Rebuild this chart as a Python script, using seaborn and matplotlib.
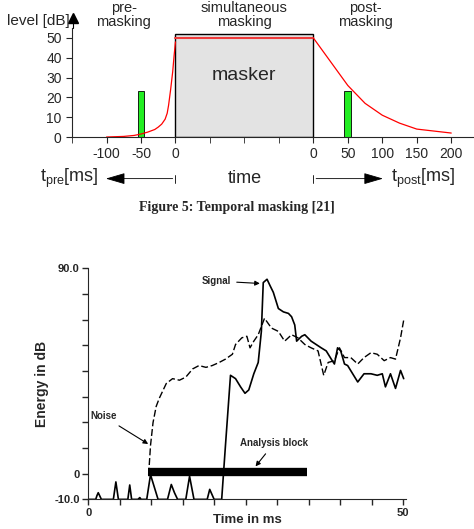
import numpy as np
import matplotlib
matplotlib.use("Agg")
import matplotlib.pyplot as plt
import seaborn as sns

sns.set_style("ticks")
plt.rcParams['font.family'] = ['Liberation Sans', 'DejaVu Sans']

# ---- top chart: temporal masking (u = pre ms, masker 0..200, post 200+ms)
pre_t = [-100, -75, -60, -50, -40, -30, -25, -20, -15, -12, -10, -7, -4, -2, 0]
pre_db = [0, 0.3, 0.8, 1.5, 2.5, 3.8, 5, 6.5, 9, 12, 16, 24, 33, 41, 48]
post_t = [0, 25, 50, 75, 100, 125, 150, 175, 200]
post_db = [50, 38, 26, 17, 11, 7, 4, 3, 2]
masker_level = 50
masker_top = 52
signal_level = 23
signal_pos = [-50, 50]
tick_u = [-100, -50, 0, 200, 250, 300, 350, 400]
tick_lbl = ['-100', '-50', '0', '0', '50', '100', '150', '200']

# ---- bottom chart: energy vs time
noise_t = [9.6, 9.9, 10.3, 10.8, 11.3, 12.4, 13.4, 14.5, 15.5, 16.6, 17.6, 18.7, 19.7, 20.8,
           21.8, 22.9, 23.4, 24.4, 25.2, 25.7, 26.3, 27.0, 28.0, 29.1, 30.2, 31.2, 32.3, 33.3,
           34.4, 35.4, 36.5, 37.4, 38.1, 39.1, 39.9, 40.7, 41.7, 42.8, 43.8, 44.9, 45.9, 47.0,
           48.0, 48.8, 49.6, 50.1]
noise_db = [-0.4, 11.0, 19.9, 26.2, 29.4, 35.1, 37.0, 36.4, 37.6, 40.8, 42.1, 41.4, 42.1, 43.3,
            44.6, 46.5, 50.3, 52.9, 53.5, 49.0, 51.6, 54.1, 60.5, 56.7, 55.4, 51.6, 54.1, 52.9,
            50.3, 49.0, 47.8, 38.3, 43.3, 44.0, 49.0, 45.2, 45.2, 42.7, 45.2, 47.1, 46.5, 44.0,
            45.2, 44.6, 52.9, 59.8]
signal_t = [0.0, 1.2, 1.4, 1.6, 2.1, 4.0, 4.4, 4.8, 6.3, 6.6, 6.9, 7.9, 8.2, 8.4, 9.3, 9.9, 11.1,
            12.6, 13.2, 13.7, 14.2, 15.5, 16.1, 16.8, 18.9, 19.3, 20.0, 21.2, 21.8, 22.6, 23.4,
            24.2, 24.9, 25.5, 26.3, 27.0, 27.5, 27.8, 28.4, 28.9, 29.4, 30.2, 31.0, 31.8, 32.3,
            32.8, 33.1, 33.9, 34.4, 35.4, 36.2, 37.0, 37.8, 38.6, 39.1, 39.6, 40.1, 40.7, 41.2,
            42.0, 42.8, 43.8, 44.9, 45.9, 46.7, 47.2, 48.0, 48.8, 49.6, 50.1]
signal_db = [-10, -10, -8.5, -7.4, -10, -10, -3.2, -10, -10, -4.4, -10, -10, -9.3, -10, -10, -0.4,
             -10, -10, -4.2, -7.4, -10, -10, -1.0, -10, -10, -6.1, -10, -10, 11.0, 38.3, 37.0,
             33.8, 31.3, 32.6, 38.9, 43.3, 55.4, 74.4, 75.7, 73.1, 70.6, 64.3, 63.0, 62.4, 61.1,
             57.9, 51.6, 53.5, 54.1, 51.6, 50.3, 49.0, 47.8, 44.6, 42.7, 49.0, 47.8, 42.7, 42.1,
             38.9, 35.7, 38.9, 38.9, 38.3, 38.9, 33.8, 38.9, 33.2, 40.2, 37.0]
block_start, block_end = 9.5, 34.8

fig = plt.figure(figsize=(4.74, 5.29), dpi=100)

# ================= top =================
ax = fig.add_axes([0.152, 0.741, 0.848, 0.206])
ax.add_patch(plt.Rectangle((0, 0), 200, masker_top, facecolor='#e3e3e3', edgecolor='black', lw=1))
ax.plot([0, 200], [masker_level, masker_level], color='#f03c3c', lw=1.5)
sns.lineplot(x=pre_t, y=pre_db, ax=ax, color='red', lw=0.9)
sns.lineplot(x=[200 + t for t in post_t], y=post_db, ax=ax, color='red', lw=0.9)
for s in signal_pos:
    u = s if s < 0 else 200 + s
    ax.bar(u, signal_level, width=10, color='#22ee22', edgecolor='black', lw=0.6)
ax.text(100, 31, 'masker', ha='center', va='center', fontsize=14)
ax.set_xlim(-149, 433)
ax.set_ylim(0, 55)
ax.set_yticks([0, 10, 20, 30, 40, 50])
ax.tick_params(axis='y', labelsize=10, length=4)
ax.set_xticks(tick_u)
ax.set_xticklabels(tick_lbl, fontsize=10)
ax.set_xticks([-150, 50, 100, 150], minor=True)
ax.tick_params(axis='x', which='both', length=4)
sns.despine(ax=ax, top=True, right=True)
ax.plot([-149, -149], [55, 60], color='black', lw=0.8, clip_on=False)
ax.plot(-149, 60, marker='^', color='black', ms=7, clip_on=False)
ax.text(-153, 58.5, 'level [dB]', ha='right', va='center', fontsize=11)
ax.text(-75, 61.5, 'pre-\nmasking', ha='center', va='center', fontsize=10.5, linespacing=0.95)
ax.text(100, 61.5, 'simultaneous\nmasking', ha='center', va='center', fontsize=10.5, linespacing=0.95)
ax.text(275, 61.5, 'post-\nmasking', ha='center', va='center', fontsize=10.5, linespacing=0.95)
# time axis row
ax.annotate('', xy=(-105, -21), xytext=(0, -21), xycoords='data',
            arrowprops=dict(arrowstyle='-|>,head_length=1.2,head_width=0.35', color='black', lw=0.6),
            annotation_clip=False)
ax.annotate('', xy=(305, -21), xytext=(200, -21), xycoords='data',
            arrowprops=dict(arrowstyle='-|>,head_length=1.2,head_width=0.35', color='black', lw=0.6),
            annotation_clip=False)
ax.plot([0, 0], [-23, -19], color='black', lw=0.6, clip_on=False)
ax.plot([200, 200], [-23, -19], color='black', lw=0.6, clip_on=False)
ax.text(-112, -21, r'$\mathregular{t_{pre}}$[ms]', ha='right', va='center', fontsize=13)
ax.text(100, -21, 'time', ha='center', va='center', fontsize=13)
ax.text(312, -21, r'$\mathregular{t_{post}}$[ms]', ha='left', va='center', fontsize=13)

fig.text(0.5, 1 - 207 / 529, 'Figure 5: Temporal masking [21]', ha='center', va='center',
         fontsize=10, fontweight='bold', family=['Liberation Serif', 'DejaVu Serif'])

# ================= bottom =================
bx = fig.add_axes([0.186, 0.056, 0.671, 0.437])
sns.lineplot(x=noise_t, y=noise_db, ax=bx, color='black', lw=1.0, linestyle=(0, (5, 2)))
sns.lineplot(x=signal_t, y=signal_db, ax=bx, color='black', lw=1.2)
bx.plot([block_start, block_end], [0.5, 0.5], color='black', lw=6, solid_capstyle='butt')
bx.set_xlim(0, 50.5)
bx.set_ylim(-10, 80)
bx.set_yticks(np.arange(-10, 81, 10))
bx.set_yticklabels(['-10.0', '0', '', '', '', '', '', '', '', '90.0'], fontsize=8, fontweight='bold')
bx.set_xticks(np.arange(0, 51, 5))
bx.set_xticklabels(['0'] + [''] * 9 + ['50'], fontsize=8, fontweight='bold')
bx.tick_params(length=4, width=1, pad=2)
sns.despine(ax=bx, top=True, right=True)
bx.set_xlabel('Time in ms', fontsize=9.5, fontweight='bold', labelpad=-3)
bx.set_ylabel('Energy in dB', fontsize=10, fontweight='bold')
arr = dict(arrowstyle='-|>', color='black', lw=0.8)
bx.annotate('Signal', xy=(27.7, 74), xytext=(20.3, 75), fontsize=7, fontweight='bold',
            ha='center', va='center', arrowprops=arr)
bx.annotate('Noise', xy=(9.9, 11), xytext=(2.4, 22.4), fontsize=7, fontweight='bold',
            ha='center', va='center', arrowprops=arr)
bx.annotate('Analysis block', xy=(26.3, 2), xytext=(29.5, 11.8), fontsize=7, fontweight='bold',
            ha='center', va='center', arrowprops=arr)

fig.savefig('out.png', dpi=100)
